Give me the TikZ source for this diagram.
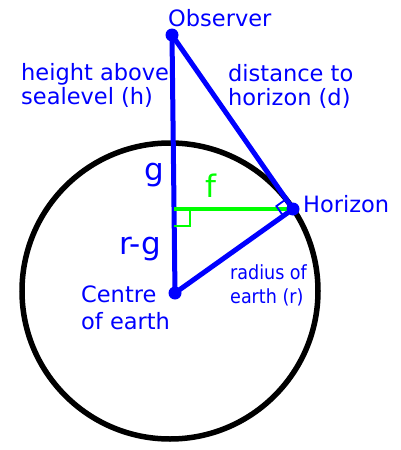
\documentclass[tikz,border=0pt]{standalone}
\usepackage{fontspec}
\setmainfont{DejaVu Sans}
\newfontfamily\condfont{DejaVu Sans Condensed}
\usetikzlibrary{calc}
\definecolor{myblue}{RGB}{0,0,255}
\definecolor{mygreen}{RGB}{0,255,0}
\tikzset{
  earth/.style={draw=black, line width=5.5pt},
  bline/.style={draw=myblue, line width=5pt},
  gline/.style={draw=mygreen, line width=4pt},
  dotpt/.style={circle, fill=myblue, inner sep=0pt, minimum size=13pt},
  lbl/.style={text=myblue, inner sep=0pt, font=\fontsize{22.5}{23.5}\selectfont, align=left},
  biglbl/.style={text=myblue, inner sep=0pt, font=\fontsize{31}{32}\selectfont},
  anglemark/.style={line width=1.8pt},
}
\begin{document}
\begin{tikzpicture}[x=1pt, y=-1pt]
\useasboundingbox (0,0) rectangle (400,450);
% earth
\node[earth, circle, minimum size=296pt, inner sep=0pt] (earth) at (170,291) {};
% points
\coordinate (O) at (172,35);
\coordinate (C) at (175,293);
\coordinate (H) at (293,209);
\coordinate (F) at (174,209);
% lines
\draw[bline] (O) -- (C);
\draw[bline] (O) -- (H);
\draw[bline] (H) -- (C);
\draw[gline] (F) -- (H);
% right angle at foot
\draw[anglemark, draw=mygreen] ($(F)+(0,17)$) -| ($(F)+(16,0)$);
% right angle at horizon
\coordinate (ha) at ($(H)!12pt!(O)$);
\coordinate (hc) at ($(H)!12pt!(C)$);
\coordinate (hb) at ($(ha)+(hc)-(H)$);
\draw[anglemark, draw=myblue] (ha) -- (hb) -- (hc);
% dots
\node[dotpt] (Od) at (O) {};
\node[dotpt] (Cd) at (C) {};
\node[dotpt] (Hd) at (H) {};
% labels
\node[lbl, anchor=base west] (tobs) at (168,26) {Observer};
\node[lbl, anchor=north west] (th) at (21,63.6) {height above\\sealevel (h)};
\node[lbl, anchor=north west] (td) at (228,64.6) {distance to\\horizon (d)};
\node[lbl, anchor=base west] (thor) at (303,212) {Horizon};
\node[lbl, anchor=north west, font=\fontsize{22.5}{27}\selectfont] (tc) at (81,285.5) {Centre\\of earth};
\node[lbl, anchor=north west, font=\condfont\fontsize{19.5}{24}\selectfont] (tr) at (230,264) {radius of\\earth (r)};
\node[biglbl, anchor=base] (tg) at (154,180) {g};
\node[biglbl, anchor=base] (trg) at (140,254) {r-g};
\node[biglbl, anchor=base, text=mygreen] (tf) at (211,197) {f};
\end{tikzpicture}
\end{document}
